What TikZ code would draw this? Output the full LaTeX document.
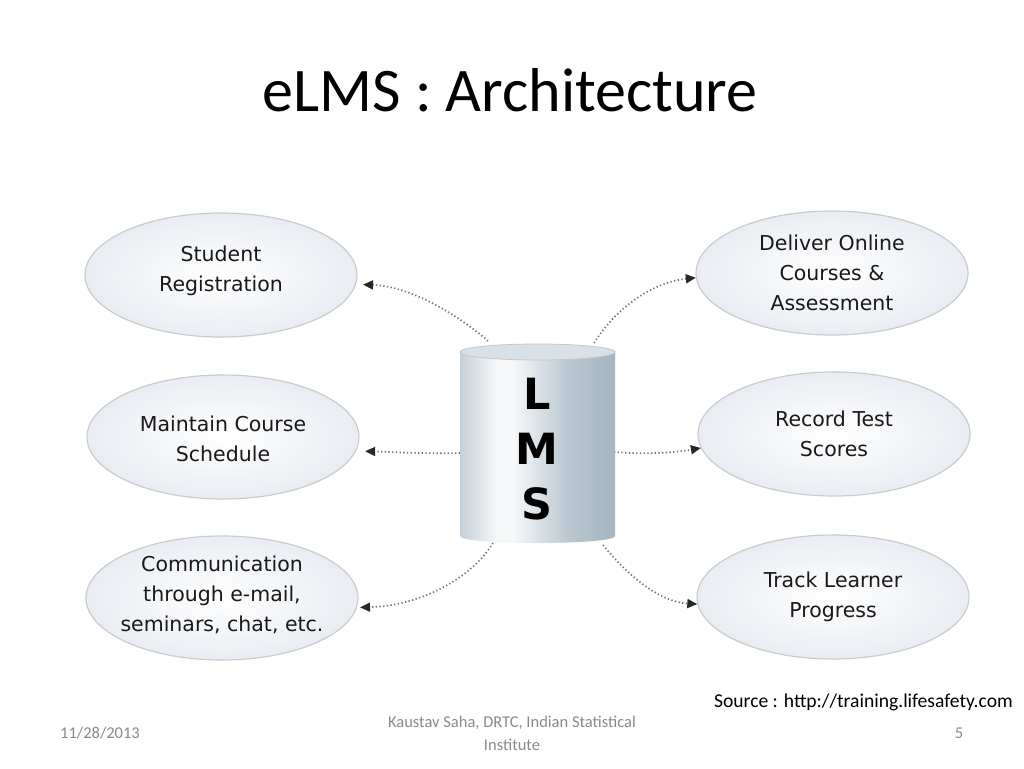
\documentclass[tikz,border=0pt]{standalone}
\usepackage{fontspec}
\setmainfont{Carlito}
\newfontfamily\vfont{DejaVu Sans}
\usetikzlibrary{arrows.meta,shapes.geometric}
\definecolor{ellfill}{RGB}{233,237,242}
\definecolor{ellline}{RGB}{200,204,209}
\definecolor{cylA}{RGB}{196,207,215}
\definecolor{cylB}{RGB}{246,248,249}
\definecolor{cylC}{RGB}{186,199,208}
\definecolor{cylD}{RGB}{163,181,193}
\definecolor{cyltop}{RGB}{218,225,230}
\definecolor{cylrim}{RGB}{190,200,208}
\definecolor{footc}{RGB}{137,137,137}
\definecolor{dotc}{RGB}{115,115,115}
\definecolor{tipc}{RGB}{40,40,40}
\pgfdeclarehorizontalshading{cylshade}{100bp}{color(0bp)=(cylA); color(25bp)=(cylA); color(37bp)=(cylB); color(42bp)=(cylB); color(60bp)=(cylC); color(75bp)=(cylD); color(100bp)=(cylD)}
\tikzset{
  ell/.style={ellipse, minimum width=272pt, minimum height=124pt, inner sep=0pt,
    draw=ellline, line width=1.2pt, inner color=white, outer color=ellfill},
  etext/.style={font=\vfont\fontsize{20.5}{30}\selectfont, align=center, text=black!90},
  conn/.style={draw=dotc, line width=1.7pt, dash pattern=on 1.3pt off 2.4pt,
    -{Triangle[length=10pt,width=9pt,color=tipc]}},
  foot/.style={font=\fontsize{16.5}{23}\selectfont, text=footc, inner sep=0pt, align=center},
}
\begin{document}
\begin{tikzpicture}[x=1pt,y=-1pt]
\useasboundingbox (0,0) rectangle (1024,768);
\fill[white] (0,0) rectangle (1024,768);
% title
\node[font=\fontsize{62}{70}\selectfont, anchor=base, inner sep=0pt] (title) at (510,111) {eLMS : Architecture};
% ellipses
\node[ell, label={[etext,yshift=4pt]center:{Student\\Registration}}] (sr) at (221,275) {};
\node[ell, label={[etext,yshift=-2pt]center:{Maintain Course\\Schedule}}] (mcs) at (223,437) {};
\node[ell, label={[etext,yshift=3pt]center:{Communication\\through e-mail,\\seminars, chat, etc.}}] (cm) at (222,598) {};
\node[ell, label={[etext]center:{Deliver Online\\Courses \&\\Assessment}}] (doc) at (832,273) {};
\node[ell, label={[etext]center:{Record Test\\Scores}}] (rts) at (834,434) {};
\node[ell, label={[etext]center:{Track Learner\\Progress}}] (tlp) at (833,597) {};
% connector start points on the cylinder
\coordinate (c1) at (488,341);
\coordinate (c2) at (460,453);
\coordinate (c3) at (493,543);
\coordinate (c4) at (594,343);
\coordinate (c5) at (614,452);
\coordinate (c6) at (603,545);
\draw[conn, shorten >=7pt] (c1) .. controls (462,318) and (412,286) .. (sr.-4);
\draw[conn, shorten >=9pt] (c2) .. controls (425,454) and (395,452) .. (mcs.-6);
\draw[conn, shorten >=3pt] (c3) .. controls (472,578) and (420,606) .. (cm.-4);
\draw[conn] (c4) .. controls (618,305) and (655,282) .. (doc.182);
\draw[conn] (c5) .. controls (650,455) and (678,452) .. (rts.186);
\draw[conn] (c6) .. controls (628,576) and (660,602) .. (tlp.183);
% cylinder
\shade[shading=cylshade] (460,352) -- (460,536) .. controls (460,545.3) and (615,545.3) .. (615,536) -- (615,352) -- cycle;
\filldraw[fill=cyltop, draw=cylrim, line width=0.8pt] (537.5,352) ellipse [x radius=77.5, y radius=8];
\node[font=\vfont\bfseries\fontsize{43}{55}\selectfont, align=center, inner sep=0pt] (lms) at (537,449) {L\\M\\S};
% source and footer
\node[font=\fontsize{19.6}{24}\selectfont, anchor=base east, inner sep=0pt] (src) at (1013,707) {Source : http://training.lifesafety.com};
\node[foot, anchor=base] (date) at (100,738) {11/28/2013};
\node[foot] (author) at (512,733) {Kaustav Saha, DRTC, Indian Statistical\\Institute};
\node[foot, anchor=base] (page) at (959,738) {5};
\end{tikzpicture}
\end{document}
